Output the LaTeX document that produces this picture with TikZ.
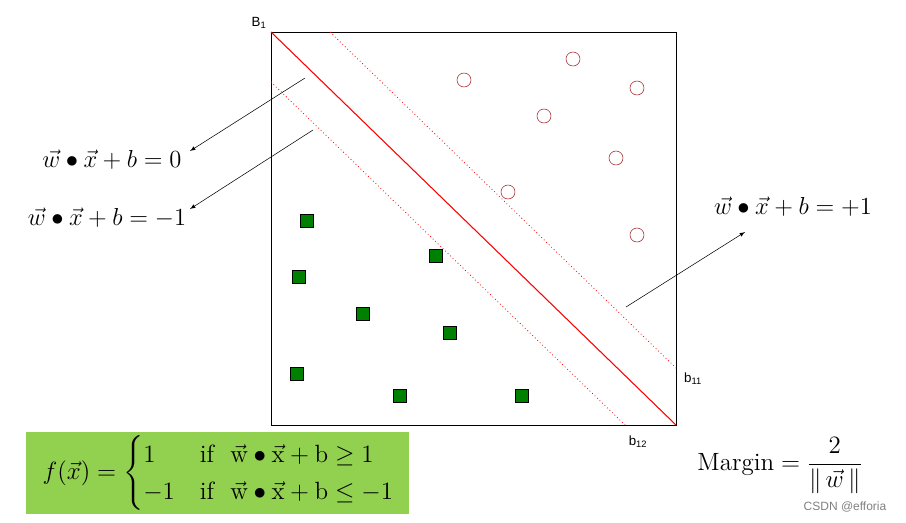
\documentclass[tikz,border=0pt]{standalone}
\usepackage{amsmath}
\usepackage{fontspec}
\newfontfamily\sansf{Liberation Sans}
\newcommand{\bdot}{\mathbin{\bullet}}
\begin{document}
\begin{tikzpicture}[x=0.75pt,y=-0.75pt,
  circ/.style={draw={rgb,255:red,160;green,30;blue,30},circle,minimum size=10.5pt,inner sep=0pt},
  sq/.style={draw=black,fill=green!50!black,minimum size=9.5pt,inner sep=0pt},
  arr/.style={-latex,thin},
  lab/.style={font=\sansf\normalsize,inner sep=0pt}]
\useasboundingbox (0,0) rectangle (906,522);
\node[draw,thin,minimum width=303.75pt,minimum height=294.75pt,inner sep=0pt,anchor=north west] (box) at (271,32) {};
\coordinate (p1) at (271,32); \coordinate (p2) at (676,425);
\draw[red,thick] (p1) -- (p2);
\coordinate (u1) at (330,32); \coordinate (u2) at (676,368);
\coordinate (l1) at (271,82); \coordinate (l2) at (625,425);
\draw[red,dotted,semithick] (u1) -- (u2);
\draw[red,dotted,semithick] (l1) -- (l2);
\foreach \p [count=\i] in {(464,80),(573,59),(637,88),(544,116),(616,158),(508,192),(637,235)}
  \node[circ] (c\i) at \p {};
\foreach \p [count=\i] in {(307,221),(299,277),(436,256),(363,314),(450,333),(297,374),(400,396),(522,396)}
  \node[sq] (s\i) at \p {};
\node[lab] (B1) at (259,23) {B\textsubscript{1}};
\node[lab] (b11) at (693,379) {b\textsubscript{11}};
\node[lab] (b12) at (638,442) {b\textsubscript{12}};
\node[scale=1.28] (e0) at (112,160) {\Large $\vec w\bdot\vec x+b=0$};
\node[scale=1.28] (e1) at (107,218) {\Large $\vec w\bdot\vec x+b=-1$};
\node[scale=1.28] (e2) at (793,207) {\Large $\vec w\bdot\vec x+b=+1$};
\coordinate (a0) at (305,78); \coordinate (a1) at (313,130); \coordinate (a2) at (626,307);
\coordinate (t0) at (190,151); \coordinate (t1) at (190,209); \coordinate (t2) at (745,232);
\draw[arr] (a0) -- (t0);
\draw[arr] (a1) -- (t1);
\draw[arr] (a2) -- (t2);
\node[fill={rgb,255:red,146;green,208;blue,80},minimum width=287pt,minimum height=61.5pt,anchor=north west,inner sep=0pt] (g) at (26,432) {};
\node[scale=1.3] (f) at ([xshift=1]g.center) {\Large $f(\vec x)=\begin{cases}1 & \text{if }\ \vec{\mathrm w}\bdot\vec{\mathrm x}+\mathrm b\ge 1\\ -1 & \text{if }\ \vec{\mathrm w}\bdot\vec{\mathrm x}+\mathrm b\le -1\end{cases}$};
\node[scale=1.3] (m) at (780,466) {\Large $\text{Margin}=\dfrac{2}{\|\,\vec w\,\|}$};
\node[font=\sansf\small,text=gray] (wm) at (845,507) {CSDN @efforia};
\end{tikzpicture}
\end{document}
